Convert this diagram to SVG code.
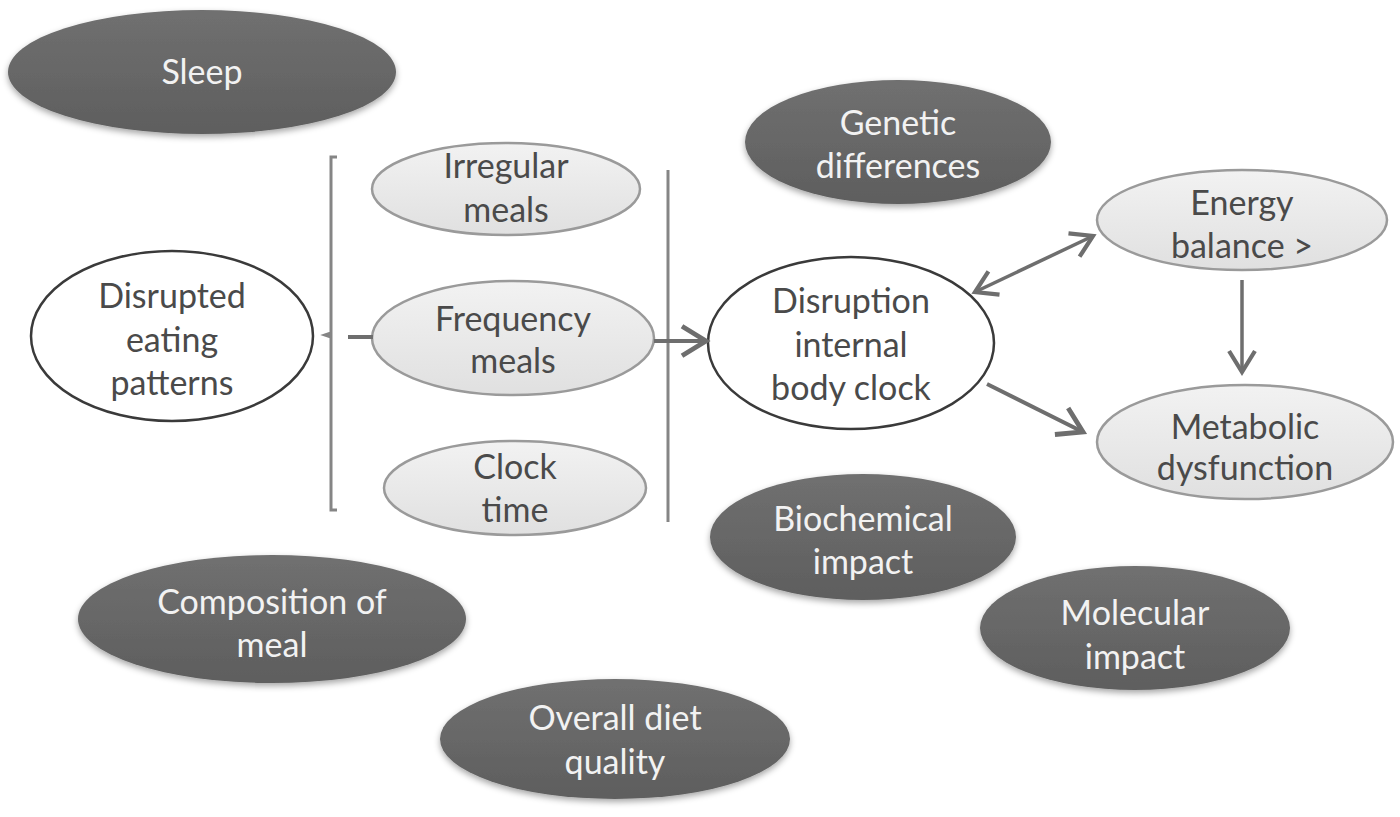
<svg xmlns="http://www.w3.org/2000/svg" width="1400" height="817" viewBox="0 0 1400 817">
<style>
.dark{fill:url(#gd);filter:url(#sh)}
.light{fill:url(#gl);stroke:#9a9a9a;stroke-width:2.5}
.white{fill:#fff;stroke:#3a3a3a;stroke-width:2.5}
.tl{font-family:Lato,"Open Sans","Liberation Sans",sans-serif;font-size:34px;text-anchor:middle;fill:#f2f2f2}
.td{font-family:Lato,"Open Sans","Liberation Sans",sans-serif;font-size:34px;text-anchor:middle;fill:#4a4a4a}
.br{fill:none;stroke:#858585;stroke-width:3}
.cn{fill:none;stroke:#6e6e6e;stroke-width:4}
</style>
<defs>
<linearGradient id="gd" x1="0" y1="0" x2="0" y2="1"><stop offset="0" stop-color="#707070"/><stop offset="1" stop-color="#5e5e5e"/></linearGradient>
<linearGradient id="gl" x1="0" y1="0" x2="0" y2="1"><stop offset="0" stop-color="#f2f2f2"/><stop offset="1" stop-color="#e0e0e0"/></linearGradient>
<filter id="sh" x="-10%" y="-10%" width="120%" height="130%"><feGaussianBlur in="SourceAlpha" stdDeviation="3"/><feOffset dy="3" result="b"/><feFlood flood-color="#000" flood-opacity="0.35"/><feComposite in2="b" operator="in"/><feMerge><feMergeNode/><feMergeNode in="SourceGraphic"/></feMerge></filter>
<marker id="ah" markerWidth="9" markerHeight="9" refX="7" refY="4.5" orient="auto-start-reverse" markerUnits="strokeWidth"><polyline points="1,0.8 7,4.5 1,8.2" fill="none" stroke="#6e6e6e" stroke-width="1.2"/></marker>
</defs>
<rect width="1400" height="817" fill="#fff"/>
<g id="sleep"><ellipse class="dark" cx="202" cy="72" rx="194" ry="62"/><text class="tl" x="202" y="84">Sleep</text></g>
<g id="genetic"><ellipse class="dark" cx="898" cy="142" rx="153" ry="62"/><text class="tl" x="898" y="135">Genetic</text><text class="tl" x="898" y="178">differences</text></g>
<g id="irregular"><ellipse class="light" cx="506" cy="189" rx="134" ry="46"/><text class="td" x="506" y="178">Irregular</text><text class="td" x="506" y="222">meals</text></g>
<g id="frequency"><ellipse class="light" cx="513" cy="338" rx="141" ry="57"/><text class="td" x="513" y="331">Frequency</text><text class="td" x="513" y="373">meals</text></g>
<g id="clock"><ellipse class="light" cx="515" cy="488" rx="131" ry="47"/><text class="td" x="515" y="479">Clock</text><text class="td" x="515" y="522">time</text></g>
<g id="disrupted"><ellipse class="white" cx="172" cy="336" rx="141" ry="85"/><text class="td" x="172" y="308">Disrupted</text><text class="td" x="172" y="352">eating</text><text class="td" x="172" y="395">patterns</text></g>
<g id="disruption"><ellipse class="white" cx="851" cy="343" rx="143" ry="86"/><text class="td" x="851" y="313">Disruption</text><text class="td" x="851" y="357">internal</text><text class="td" x="851" y="400">body clock</text></g>
<g id="energy"><ellipse class="light" cx="1242" cy="220" rx="145" ry="50"/><text class="td" x="1242" y="215">Energy</text><text class="td" x="1242" y="258">balance &gt;</text></g>
<g id="metabolic"><ellipse class="light" cx="1245" cy="442" rx="148" ry="57"/><text class="td" x="1245" y="439">Metabolic</text><text class="td" x="1245" y="480">dysfunction</text></g>
<g id="biochemical"><ellipse class="dark" cx="863" cy="537" rx="153" ry="63"/><text class="tl" x="863" y="531">Biochemical</text><text class="tl" x="863" y="574">impact</text></g>
<g id="molecular"><ellipse class="dark" cx="1135" cy="628" rx="155" ry="62"/><text class="tl" x="1135" y="625">Molecular</text><text class="tl" x="1135" y="669">impact</text></g>
<g id="composition"><ellipse class="dark" cx="272" cy="619" rx="194" ry="64"/><text class="tl" x="272" y="614">Composition of</text><text class="tl" x="272" y="657">meal</text></g>
<g id="overall"><ellipse class="dark" cx="615" cy="739" rx="175" ry="60"/><text class="tl" x="615" y="730">Overall diet</text><text class="tl" x="615" y="774">quality</text></g>
<g id="connectors">
<path class="br" d="M337,157 L331,157 L331,510 L337,510 M331,333 L325,335 L331,337"/>
<path class="br" d="M668,170 L668,522"/>
<line class="cn" x1="348" y1="337" x2="373" y2="337"/>
<line class="cn" x1="654" y1="341" x2="706" y2="341" marker-end="url(#ah)"/>
<line class="cn" x1="975" y1="292" x2="1093" y2="236" marker-start="url(#ah)" marker-end="url(#ah)" style="stroke-width:3.5"/>
<line class="cn" x1="1242" y1="280" x2="1242" y2="372" marker-end="url(#ah)" style="stroke-width:3.5"/>
<line class="cn" x1="987" y1="384" x2="1083" y2="432" marker-end="url(#ah)"/>
</g>
</svg>
